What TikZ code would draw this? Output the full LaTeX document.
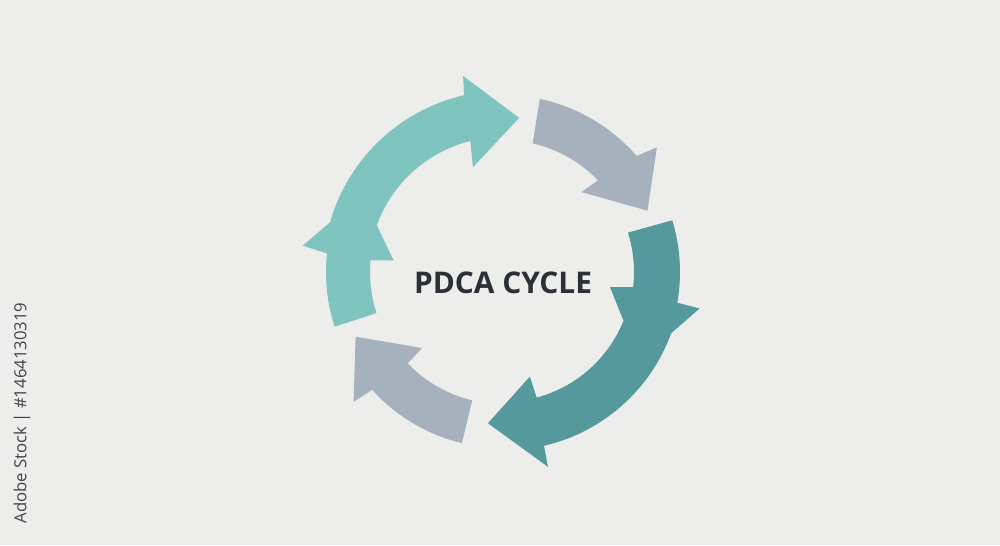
\documentclass[tikz,border=0pt]{standalone}
\usepackage{fontspec}
\setmainfont{Open Sans}
\definecolor{bgc}{RGB}{237,238,236}
\definecolor{tealL}{RGB}{127,196,191}
\definecolor{grayB}{RGB}{166,177,190}
\definecolor{tealD}{RGB}{86,153,157}
\definecolor{txtc}{RGB}{42,48,54}
\tikzset{
  arrowshape/.style={draw=none},
  title/.style={font=\bfseries\fontsize{17}{19}\selectfont, text=txtc, inner sep=0pt},
  credit/.style={font=\fontsize{9.5}{11}\selectfont, text=txtc!90, rotate=90, inner sep=0pt}
}
\begin{document}
\begin{tikzpicture}[x=0.02cm,y=-0.02cm]
\fill[bgc] (0,0) rectangle (1000,545);
\useasboundingbox (0,0) rectangle (1000,545);
\begin{scope}[shift={(503,272)}]
% light teal arrow (left, going up and over the top)
\fill[tealL, arrowshape] (162:177) arc[start angle=162, end angle=186, radius=177]
  -- (187.5:202) -- (196:180) arc[start angle=196, end angle=257, radius=182]
  -- (258.5:200) -- (276:155) -- (254:109) -- (256:135)
  arc[start angle=256, end angle=200, radius=134]
  -- (186:110) -- (185:133) arc[start angle=185, end angle=162, radius=133] -- cycle;
% gray arrow (top right)
\fill[grayB, arrowshape] (282:177) arc[start angle=282, end angle=319, radius=177]
  -- (321:198) -- (337:157) -- (314.5:112) -- (316:132)
  arc[start angle=316, end angle=283, radius=132] -- cycle;
% dark teal arrow (right, going down and round the bottom)
\fill[tealD, arrowshape] (342.5:131) -- (343:177) arc[start angle=343, end angle=370, radius=177]
  -- (370.5:200) -- (380:179) arc[start angle=380, end angle=437, radius=178]
  -- (437:200) -- (455.7:152) -- (435.6:108) -- (435:130)
  arc[start angle=435, end angle=382, radius=130]
  -- (368:108) -- (366.6:131) arc[start angle=366.6, end angle=342.5, radius=131] -- cycle;
% gray arrow (bottom left)
\fill[grayB, arrowshape] (103.5:132) -- (103.5:176) arc[start angle=103.5, end angle=138, radius=176]
  -- (139:198) -- (156.3:161) -- (136.8:111) -- (136.2:132)
  arc[start angle=136.2, end angle=103.5, radius=132] -- cycle;
\end{scope}
\node[title] (t) at (503,283) {PDCA CYCLE};
\node[credit] (c) at (22,413) {Adobe Stock | \#1464130319};
\end{tikzpicture}
\end{document}
